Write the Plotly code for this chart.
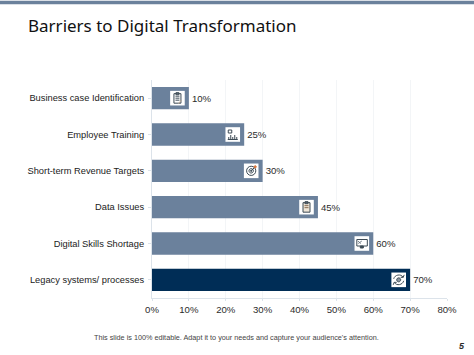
import plotly.graph_objects as go

categories = ["Legacy systems/ processes", "Digital Skills Shortage", "Data Issues",
              "Short-term Revenue Targets", "Employee Training", "Business case Identification"]
values = [70, 60, 45, 30, 25, 10]
colors = ["#002D56", "#6B819C", "#6B819C", "#6B819C", "#6B819C", "#6B819C"]
labels = ["70%", "60%", "45%", "30%", "25%", "10%"]
tick_values = [0, 10, 20, 30, 40, 50, 60, 70, 80]
tick_labels = ["0%", "10%", "20%", "30%", "40%", "50%", "60%", "70%", "80%"]
icons = ["cycle", "screen", "clip2", "target", "train", "clip"]

W, H = 474, 355
L, R, T, B = 151.5, 447.5, 79.5, 298.5
SANS = "Liberation Sans, Arial, sans-serif"
INK = "#2b2b2b"
GLYPH = "#3c4a55"


def ring(r, cx=0, cy=0):
    k = 0.552 * r
    return (f"M{cx-r},{cy} C{cx-r},{cy+k} {cx-k},{cy+r} {cx},{cy+r} "
            f"C{cx+k},{cy+r} {cx+r},{cy+k} {cx+r},{cy} "
            f"C{cx+r},{cy-k} {cx+k},{cy-r} {cx},{cy-r} "
            f"C{cx-k},{cy-r} {cx-r},{cy-k} {cx-r},{cy} Z")


CLIP = "M-3.5,-5 H3.5 V4.5 H-3.5 Z M-1.5,3.5 H1.5 V5.5 H-1.5 Z"
GLYPHS = {
    "clip": [(CLIP, None, GLYPH), ("M-2,2 H2 M-2,0 H2 M-2,-2 H2", None, GLYPH),
             ("M1,-5.5 L4,-2", None, "#b9a793")],
    "clip2": [(CLIP, "#EFE6D8", GLYPH), ("M-2,1.5 H2 M-2,-0.5 H2", None, "#8a6f55")],
    "screen": [("M-5,-2.5 H5.5 V4 H-5 Z", None, GLYPH),
               ("M-1.5,-2.5 H1.5 V-4.5 H-1.5 Z", GLYPH, GLYPH),
               ("M-4,2.5 L-1,0 M-3.5,0 L0,2.5", None, "#6f7b85")],
    "target": [(ring(4.6), None, GLYPH), (ring(2.2), None, GLYPH), (ring(0.7), GLYPH, GLYPH),
               ("M0,0 L3.8,3.8", None, GLYPH), (ring(1.1, 4, 4), "#D9743A", "#D9743A")],
    "train": [("M-5,-5 H5 M-4,-2.5 V-5 M-2,-0.5 V-5 M0,-2.5 V-5 M2,-0.5 V-5 M4,-2.5 V-5", None, GLYPH),
              ("M-4.5,4.5 H-1 V1.5 H-4.5 Z", None, GLYPH)],
    "cycle": [("M-5,1 C-4,5 2,6.5 4.5,2.5 M5,-1 C4,-5 -2,-6.5 -4.5,-2.5", None, GLYPH),
              ("M4.5,2.5 L5.5,5 M4.5,2.5 L2,2.5 M-4.5,-2.5 L-5.5,-5 M-4.5,-2.5 L-2,-2.5", None, GLYPH),
              (ring(2), "#8b97a1", GLYPH)],
}

fig = go.Figure(go.Bar(
    x=values, y=categories, orientation="h", width=0.615,
    marker=dict(color=colors, line_width=0),
    text=labels, textposition="outside", cliponaxis=False,
    textfont=dict(family=SANS, size=9.6, color=INK),
))

shapes = []
ICON_OFFSET = 3.1
for cat, val, icon in zip(categories, values, icons):
    common = dict(xref="x", yref="y", xsizemode="pixel", ysizemode="pixel",
                  xanchor=val - ICON_OFFSET, yanchor=cat, layer="above")
    shapes.append(dict(type="rect", x0=-7.3, x1=7.3, y0=-7.3, y1=7.3,
                       fillcolor="white", line_width=0, **common))
    for path, fill, stroke in GLYPHS[icon]:
        extra = dict(fillcolor=fill) if fill else {}
        shapes.append(dict(type="path", path=path, line=dict(color=stroke, width=1), **extra, **common))

fig.update_layout(
    width=W, height=H, autosize=False,
    margin=dict(l=L, r=W - R, t=T, b=H - B, pad=0),
    paper_bgcolor="white", plot_bgcolor="white",
    showlegend=False, bargap=0.385,
    font=dict(family=SANS, size=9.6, color=INK),
    xaxis=dict(range=[0, 80], tickvals=tick_values, ticktext=tick_labels,
               showgrid=True, gridcolor="#F3F5F7", gridwidth=1, zeroline=False,
               showline=True, linecolor="#DCE3EA", linewidth=1,
               ticks="outside", ticklen=2, tickcolor="#DCE3EA",
               tickfont=dict(family=SANS, size=9.6, color=INK), fixedrange=True),
    yaxis=dict(type="category", categoryorder="array", categoryarray=categories,
               showgrid=False, zeroline=False, showline=True, linecolor="#DCE3EA", linewidth=1,
               ticks="outside", ticklen=3, tickcolor="#DCE3EA", ticklabelstandoff=2,
               tickfont=dict(family=SANS, size=9.3, color="#222222"), fixedrange=True),
    shapes=shapes + [dict(type="rect", xref="paper", yref="paper", x0=-1, x1=2,
                          y0=1 + (T - 3.5) / (B - T), y1=1 + T / (B - T),
                          fillcolor="#6B819C", line_width=0, layer="above")],
    annotations=[
        dict(text="Barriers to Digital Transformation", xref="paper", yref="paper",
             x=(25.5 - L) / (R - L), y=1 + (T - 25) / (B - T), xanchor="left", yanchor="middle",
             showarrow=False, font=dict(family="Noto Sans, Open Sans, sans-serif", size=17, color="#111111")),
        dict(text="This slide is 100% editable. Adapt it to your needs and capture your audience's attention.",
             xref="paper", yref="paper", x=(236.5 - L) / (R - L), y=1 - (338 - T) / (B - T),
             xanchor="center", yanchor="middle", showarrow=False,
             font=dict(family=SANS, size=7.25, color="#444444")),
        dict(text="<b><i>5</i></b>", xref="paper", yref="paper", x=(463 - L) / (R - L), y=1 - (347 - T) / (B - T),
             xanchor="center", yanchor="middle", showarrow=False,
             font=dict(family=SANS, size=9, color=INK)),
    ],
)

fig.write_html("out.html", config={"displayModeBar": False},
               post_script="document.body.style.margin='0';")
